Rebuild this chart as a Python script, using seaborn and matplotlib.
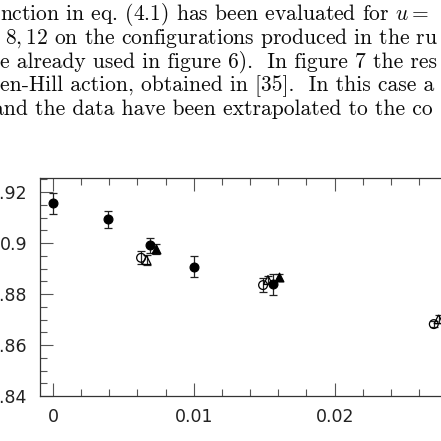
import numpy as np
import matplotlib
matplotlib.use("Agg")
import matplotlib.pyplot as plt
from matplotlib.ticker import MultipleLocator, FormatStrFormatter
import seaborn as sns
import pandas as pd

sns.set_theme(style="ticks")
plt.rcParams["mathtext.fontset"] = "cm"

# data
fc_x = [0.0, 0.0039, 0.0069, 0.0100, 0.0156, 0.0282]
fc_y = [0.9155, 0.9093, 0.8991, 0.8907, 0.8839, 0.8690]
fc_e = [0.0040, 0.0033, 0.0030, 0.0042, 0.0041, 0.0030]

ft_x = [0.00733, 0.01605, 0.0287]
ft_y = [0.8976, 0.8865, 0.8715]
ft_e = [0.0020, 0.0014, 0.0015]

oc_x = [0.00626, 0.01492, 0.02704]
oc_y = [0.8942, 0.8835, 0.8682]
oc_e = [0.0025, 0.0027, 0.0012]

ot_x = [0.00665, 0.01527, 0.02738]
ot_y = [0.8933, 0.8855, 0.8701]
ot_e = [0.0020, 0.0015, 0.0015]

text_lines = [
    r"nction in eq. (4.1) has been evaluated for $u =$",
    r"$8, 12$ on the configurations produced in the ru",
    r"e already used in figure 6).  In figure 7 the res",
    r"en-Hill action, obtained in [35].  In this case a",
    r"and the data have been extrapolated to the co",
]
text_x = [0.0, 5.0, 0.0, 0.0, -7.0]

W = H = 441
fig = plt.figure(figsize=[W / 100, H / 100], dpi=100)

for k, (s, x0) in enumerate(zip(text_lines, text_x)):
    fig.text(x0 / W, 1 - (20 + 23.8 * k) / H, s, family="cmr10",
             fontsize=15.5, color="#0a0a0a", va="baseline", ha="left")

ax = fig.add_axes([39.5 / W, 45 / H, 436 / W, 218 / H])

series = [
    (fc_x, fc_y, fc_e, "o", "black"),
    (ft_x, ft_y, ft_e, "^", "black"),
    (oc_x, oc_y, oc_e, "o", "none"),
    (ot_x, ot_y, ot_e, "^", "none"),
]
for x, y, e, m, fcol in series:
    df = pd.DataFrame({"x": x, "y": y})
    ax.errorbar(x, y, yerr=e, fmt="none", ecolor="#222222", elinewidth=0.9,
                capsize=3.2, capthick=0.9, zorder=2)
    sns.scatterplot(data=df, x="x", y="y", marker=m, s=40, color="black",
                    facecolor=fcol, edgecolor="black", linewidth=0.9,
                    ax=ax, zorder=3)

ax.set_xlim(-0.00095, 0.03)
ax.set_ylim(0.84, 0.9255)
ax.set_xlabel("")
ax.set_ylabel("")
ax.xaxis.set_major_locator(MultipleLocator(0.01))
ax.xaxis.set_minor_locator(MultipleLocator(0.002))
ax.yaxis.set_major_locator(MultipleLocator(0.02))
ax.yaxis.set_minor_locator(MultipleLocator(0.005))
ax.xaxis.set_major_formatter(FormatStrFormatter("%g"))
ax.yaxis.set_major_formatter(FormatStrFormatter("%g"))

ax.tick_params(which="both", direction="in", top=True, right=True,
               color="#555555", width=0.8)
ax.tick_params(which="major", length=9.4, labelsize=12.5, labelcolor="#222222")
ax.tick_params(axis="y", which="major", pad=8.6)
ax.tick_params(axis="x", which="major", pad=9)
ax.tick_params(which="minor", length=4.7)
for sp in ax.spines.values():
    sp.set_color("#333333")
    sp.set_linewidth(0.9)

fig.savefig("out.png", dpi=100)
